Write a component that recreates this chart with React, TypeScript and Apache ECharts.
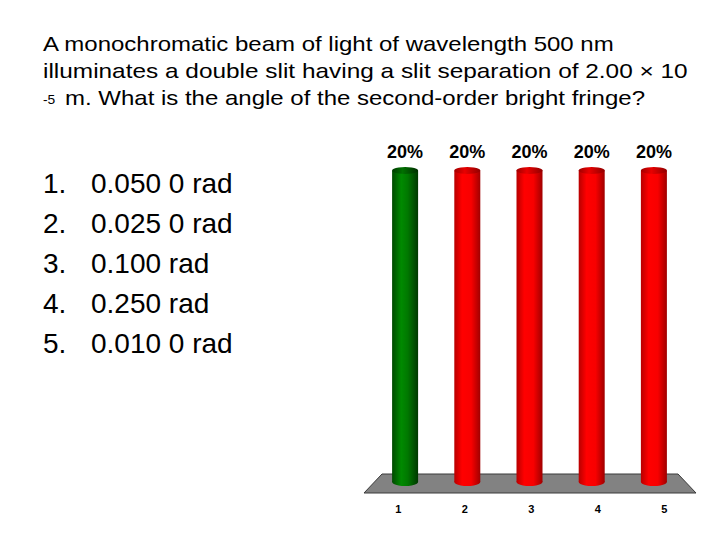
import React, { useEffect, useRef } from 'react'
import * as echarts from 'echarts'

const questionLines = [
  'A monochromatic beam of light of wavelength 500 nm',
  'illuminates a double slit having a slit separation of 2.00 × 10',
  'm. What is the angle of the second-order bright fringe?'
]
const exponent = '-5'
const optionNumbers = ['1.', '2.', '3.', '4.', '5.']
const optionTexts = ['0.050 0 rad', '0.025 0 rad', '0.100 rad', '0.250 rad', '0.010 0 rad']

const categories = ['1', '2', '3', '4', '5']
const percents = [20, 20, 20, 20, 20]
const correctIndex = 0

const FONT = 'Arial, "Liberation Sans", sans-serif'

const greenGrad = new echarts.graphic.LinearGradient(0, 0, 1, 0, [
  { offset: 0, color: '#004a00' },
  { offset: 0.35, color: '#008a00' },
  { offset: 0.6, color: '#007800' },
  { offset: 1, color: '#003800' }
])
const redGrad = new echarts.graphic.LinearGradient(0, 0, 1, 0, [
  { offset: 0, color: '#b80000' },
  { offset: 0.3, color: '#ff0000' },
  { offset: 0.65, color: '#f80000' },
  { offset: 1, color: '#a00000' }
])
const greenCap = new echarts.graphic.LinearGradient(0, 0, 1, 0, [
  { offset: 0, color: '#003a00' },
  { offset: 0.4, color: '#007000' },
  { offset: 1, color: '#002e00' }
])
const redCap = new echarts.graphic.LinearGradient(0, 0, 1, 0, [
  { offset: 0, color: '#a00000' },
  { offset: 0.4, color: '#e80000' },
  { offset: 1, color: '#900000' }
])

const App: React.FC = () => {
  const chartRef = useRef<HTMLDivElement>(null)

  useEffect(() => {
    if (!chartRef.current) return
    const chart = echarts.init(chartRef.current, undefined, { renderer: 'svg' })

    const barData = percents.map((v, i) => ({
      value: v,
      itemStyle: { color: i === correctIndex ? greenGrad : redGrad }
    }))
    const capData = percents.map((v, i) => ({
      value: v,
      itemStyle: { color: i === correctIndex ? greenCap : redCap }
    }))
    const baseData = percents.map((v, i) => ({
      value: v,
      itemStyle: { color: i === correctIndex ? greenGrad : redGrad }
    }))

    const textStyle = { fill: '#000', fontFamily: FONT }
    const graphics: any[] = []

    // floor of the 3D plot
    graphics.push({
      type: 'polygon',
      z: -10,
      shape: { points: [[382, 474], [678, 474], [696, 493], [364, 493]] },
      style: { fill: '#828282', stroke: '#3a3a3a', lineWidth: 1 }
    })

    questionLines.forEach((line, i) => {
      graphics.push({
        type: 'text',
        x: i === 2 ? 65 : 43,
        y: 44.5 + i * 27,
        scaleX: i === 1 ? 1.22 : 1.2,
        style: { ...textStyle, text: line, fontSize: 20, verticalAlign: 'middle' }
      })
    })
    graphics.push({
      type: 'text',
      x: 43,
      y: 100,
      scaleX: 1.15,
      style: { ...textStyle, text: exponent, fontSize: 12, verticalAlign: 'middle' }
    })

    optionNumbers.forEach((num, i) => {
      graphics.push({
        type: 'text',
        x: 43,
        y: 183 + i * 40,
        style: { ...textStyle, text: num, fontSize: 28, verticalAlign: 'middle' }
      })
      graphics.push({
        type: 'text',
        x: 91,
        y: 183 + i * 40,
        style: { ...textStyle, text: optionTexts[i], fontSize: 28, verticalAlign: 'middle' }
      })
    })

    chart.setOption({
      animation: false,
      grid: [
        { left: 374, width: 311, top: 170.5, height: 311.5 },
        { left: 365, width: 332.5, top: 170.5, height: 311.5 }
      ],
      xAxis: [
        {
          type: 'category',
          data: categories,
          gridIndex: 0,
          axisLine: { show: false },
          axisTick: { show: false },
          axisLabel: { show: false }
        },
        {
          type: 'category',
          data: categories,
          gridIndex: 1,
          axisLine: { show: false },
          axisTick: { show: false },
          axisLabel: {
            margin: 21,
            fontSize: 11,
            fontWeight: 'bold',
            fontFamily: FONT,
            color: '#000'
          }
        }
      ],
      yAxis: [
        { type: 'value', min: 0, max: 20, gridIndex: 0, show: false },
        { type: 'value', min: 0, max: 20, gridIndex: 1, show: false }
      ],
      series: [
        {
          type: 'pictorialBar',
          xAxisIndex: 0,
          yAxisIndex: 0,
          symbol: 'circle',
          symbolSize: [26, 8],
          symbolPosition: 'start',
          symbolOffset: [0, '50%'],
          data: baseData,
          z: 1
        },
        {
          type: 'bar',
          xAxisIndex: 0,
          yAxisIndex: 0,
          barWidth: 26,
          data: barData,
          z: 2
        },
        {
          type: 'pictorialBar',
          xAxisIndex: 0,
          yAxisIndex: 0,
          symbol: 'circle',
          symbolSize: [26, 7],
          symbolPosition: 'end',
          symbolOffset: [0, '-50%'],
          data: capData,
          z: 3,
          label: {
            show: true,
            position: 'top',
            distance: 6,
            formatter: '{c}%',
            fontSize: 18,
            fontWeight: 'bold',
            fontFamily: FONT,
            color: '#000'
          }
        }
      ],
      graphic: graphics
    })

    return () => {
      chart.dispose()
    }
  }, [])

  return (
    <div
      ref={chartRef}
      style={{ position: 'fixed', left: 0, top: 0, width: 720, height: 540, background: '#fff' }}
    />
  )
}

export default App
